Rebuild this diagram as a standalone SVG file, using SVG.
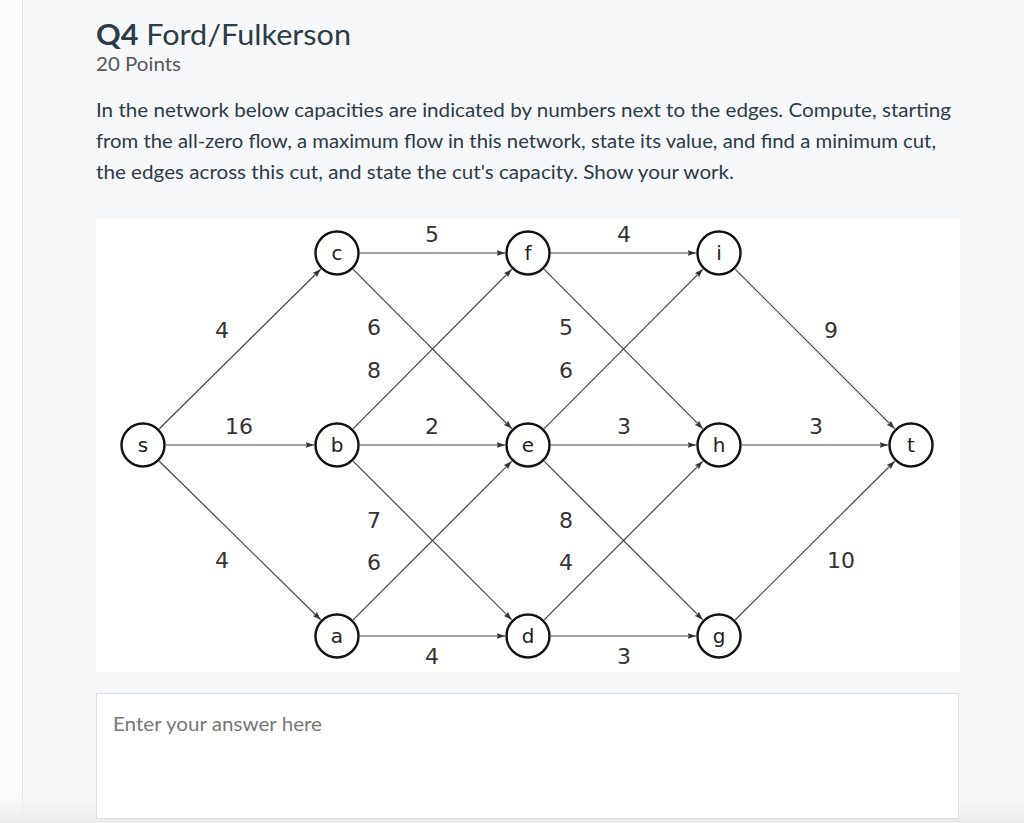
<svg xmlns="http://www.w3.org/2000/svg" width="1024" height="823" viewBox="0 0 1024 823">
<defs>
<linearGradient id="bottomShade" x1="0" y1="0" x2="0" y2="1">
<stop offset="0" stop-color="#f7f8fa" stop-opacity="0"/>
<stop offset="1" stop-color="#e9eaec"/>
</linearGradient>
<marker id="arr" markerUnits="userSpaceOnUse" markerWidth="9" markerHeight="7" refX="8.5" refY="3.5" orient="auto">
<path d="M0,0.5 L8.5,3.5 L0,6.5 L1.5,3.5 z" fill="#333"/>
</marker>
<style>
.hdr{font-family:Lato,"Open Sans","Liberation Sans",sans-serif;fill:#2d3b45}
.para{font-family:Lato,"Open Sans","Liberation Sans",sans-serif;font-size:18.5px;fill:#2d3b45}
.node circle{fill:#fff;stroke:#111;stroke-width:2.4}
.node text{font-family:"DejaVu Sans",sans-serif;font-size:20px;fill:#222;text-anchor:middle}
.edges line{stroke:#444;stroke-width:1.2;marker-end:url(#arr)}
.lbl{font-family:"DejaVu Sans",sans-serif;font-size:22px;fill:#333;text-anchor:middle}
</style>
</defs>
<rect width="1024" height="823" fill="#f7f8fa"/>
<rect width="22" height="823" fill="#fbfbfc"/>
<line x1="22.5" y1="0" x2="22.5" y2="823" stroke="#e3e4e6" stroke-width="1"/>
<rect x="0" y="790" width="1024" height="33" fill="url(#bottomShade)"/>

<text class="hdr" x="96" y="45" font-size="29" textLength="255" lengthAdjust="spacingAndGlyphs"><tspan font-weight="bold">Q4</tspan> Ford/Fulkerson</text>
<text class="hdr" x="96" y="71" font-size="18.5" style="fill:#555" textLength="85" lengthAdjust="spacingAndGlyphs">20 Points</text>
<text class="para" x="96" y="117" textLength="855" lengthAdjust="spacingAndGlyphs">In the network below capacities are indicated by numbers next to the edges. Compute, starting</text>
<text class="para" x="96" y="148" textLength="840" lengthAdjust="spacingAndGlyphs">from the all-zero flow, a maximum flow in this network, state its value, and find a minimum cut,</text>
<text class="para" x="96" y="179" textLength="638" lengthAdjust="spacingAndGlyphs">the edges across this cut, and state the cut's capacity. Show your work.</text>

<rect x="96" y="219" width="864" height="453" fill="#fff"/>

<g class="edges" id="connectors">
<line x1="166" y1="445" x2="314" y2="445"/>
<line x1="360" y1="253" x2="505" y2="253"/>
<line x1="551" y1="253" x2="696" y2="253"/>
<line x1="360" y1="445" x2="505" y2="445"/>
<line x1="551" y1="445" x2="696" y2="445"/>
<line x1="742" y1="445" x2="888" y2="445"/>
<line x1="360" y1="636" x2="505" y2="636"/>
<line x1="551" y1="636" x2="696" y2="636"/>
<line x1="159.3" y1="428.8" x2="320.7" y2="269.2"/>
<line x1="353.2" y1="428.7" x2="511.8" y2="269.3"/>
<line x1="353.3" y1="619.7" x2="511.7" y2="461.3"/>
<line x1="544.2" y1="428.7" x2="702.8" y2="269.3"/>
<line x1="544.3" y1="619.7" x2="702.7" y2="461.3"/>
<line x1="735.3" y1="619.8" x2="894.7" y2="461.2"/>
<line x1="159.3" y1="461.2" x2="320.7" y2="619.8"/>
<line x1="353.2" y1="269.3" x2="511.8" y2="428.7"/>
<line x1="353.3" y1="461.3" x2="511.7" y2="619.7"/>
<line x1="544.2" y1="269.3" x2="702.8" y2="428.7"/>
<line x1="544.3" y1="461.3" x2="702.7" y2="619.7"/>
<line x1="735.3" y1="269.3" x2="894.7" y2="428.7"/>
</g>

<g id="labels">
<text class="lbl" x="222" y="338">4</text>
<text class="lbl" x="239" y="434">16</text>
<text class="lbl" x="222" y="568">4</text>
<text class="lbl" x="432" y="242">5</text>
<text class="lbl" x="374" y="335">6</text>
<text class="lbl" x="374" y="378">8</text>
<text class="lbl" x="432" y="434">2</text>
<text class="lbl" x="374" y="528">7</text>
<text class="lbl" x="374" y="570">6</text>
<text class="lbl" x="432" y="664">4</text>
<text class="lbl" x="624" y="242">4</text>
<text class="lbl" x="566" y="335">5</text>
<text class="lbl" x="566" y="378">6</text>
<text class="lbl" x="624" y="434">3</text>
<text class="lbl" x="566" y="528">8</text>
<text class="lbl" x="566" y="570">4</text>
<text class="lbl" x="624" y="664">3</text>
<text class="lbl" x="831" y="338">9</text>
<text class="lbl" x="816" y="434">3</text>
<text class="lbl" x="841" y="568">10</text>
</g>

<g class="node" id="node-s"><circle cx="143" cy="445" r="21.5"/><text x="143" y="452">s</text></g>
<g class="node" id="node-c"><circle cx="337" cy="253" r="21.5"/><text x="337" y="260">c</text></g>
<g class="node" id="node-b"><circle cx="337" cy="445" r="21.5"/><text x="337" y="452">b</text></g>
<g class="node" id="node-a"><circle cx="337" cy="636" r="21.5"/><text x="337" y="643">a</text></g>
<g class="node" id="node-f"><circle cx="528" cy="253" r="21.5"/><text x="528" y="260">f</text></g>
<g class="node" id="node-e"><circle cx="528" cy="445" r="21.5"/><text x="528" y="452">e</text></g>
<g class="node" id="node-d"><circle cx="528" cy="636" r="21.5"/><text x="528" y="643">d</text></g>
<g class="node" id="node-i"><circle cx="719" cy="253" r="21.5"/><text x="719" y="260">i</text></g>
<g class="node" id="node-h"><circle cx="719" cy="445" r="21.5"/><text x="719" y="452">h</text></g>
<g class="node" id="node-g"><circle cx="719" cy="636" r="21.5"/><text x="719" y="643">g</text></g>
<g class="node" id="node-t"><circle cx="911" cy="445" r="21.5"/><text x="911" y="452">t</text></g>

<rect x="96.5" y="693.5" width="862" height="125" fill="#fff" stroke="#dcdde0" stroke-width="1"/>
<text x="113" y="731" font-family="Lato,'Open Sans','Liberation Sans',sans-serif" font-size="19" fill="#777" textLength="209" lengthAdjust="spacingAndGlyphs">Enter your answer here</text>
</svg>
